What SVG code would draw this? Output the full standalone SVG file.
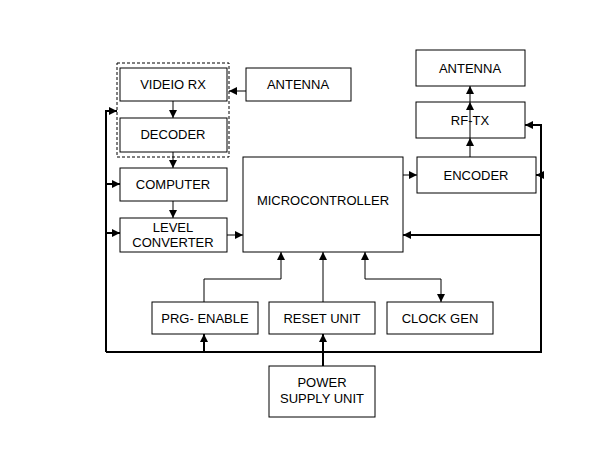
<svg xmlns="http://www.w3.org/2000/svg" width="615" height="461" viewBox="0 0 615 461">
<style>
.b{fill:#fff;stroke:#000;stroke-width:1}
.t{font-family:"Liberation Sans",Arial,sans-serif;font-size:13px;text-anchor:middle;fill:#000}
.l{fill:none;stroke:#000;stroke-width:1}
.k{fill:none;stroke:#000;stroke-width:2}
</style>
<defs><marker id="a" viewBox="0 0 10 10" refX="10" refY="5" markerWidth="8" markerHeight="8" markerUnits="userSpaceOnUse" orient="auto-start-reverse"><path d="M0,0L10,5L0,10z" fill="#000"/></marker></defs>
<rect width="615" height="461" fill="#fff"/>
<rect x="117" y="63" width="112" height="94" fill="none" stroke="#000" stroke-dasharray="3,2"/>
<g id="videorx"><rect class="b" x="120" y="68" width="107" height="33"/><text class="t" x="173" y="89">VIDEIO RX</text></g>
<g id="antenna1"><rect class="b" x="246" y="68" width="105" height="33"/><text class="t" x="298" y="89">ANTENNA</text></g>
<g id="decoder"><rect class="b" x="120" y="118" width="107" height="34"/><text class="t" x="173" y="139">DECODER</text></g>
<g id="computer"><rect class="b" x="120" y="168" width="107" height="33"/><text class="t" x="173" y="189">COMPUTER</text></g>
<g id="level"><rect class="b" x="120" y="218" width="107" height="34"/><text class="t" x="173" y="232">LEVEL</text><text class="t" x="173" y="247">CONVERTER</text></g>
<g id="micro"><rect class="b" x="243" y="157" width="160" height="95"/><text class="t" x="323" y="205">MICROCONTROLLER</text></g>
<g id="antenna2"><rect class="b" x="416" y="50" width="109" height="36"/><text class="t" x="470" y="73">ANTENNA</text></g>
<g id="rftx"><rect class="b" x="416" y="102" width="109" height="36"/><text class="t" x="470" y="125">RF-TX</text></g>
<g id="encoder"><rect class="b" x="417" y="157" width="119" height="36"/><text class="t" x="476" y="180">ENCODER</text></g>
<g id="prg"><rect class="b" x="152" y="302" width="106" height="32"/><text class="t" x="205" y="323">PRG- ENABLE</text></g>
<g id="reset"><rect class="b" x="269" y="302" width="106" height="32"/><text class="t" x="322" y="323">RESET UNIT</text></g>
<g id="clock"><rect class="b" x="387" y="302" width="106" height="32"/><text class="t" x="440" y="323">CLOCK GEN</text></g>
<g id="power"><rect class="b" x="269" y="366" width="106" height="51"/><text class="t" x="322" y="387">POWER</text><text class="t" x="322" y="403">SUPPLY UNIT</text></g>
<g id="connectors">
<path class="l" d="M246,91H229" marker-end="url(#a)"/>
<path class="l" d="M173,101V118" marker-end="url(#a)"/>
<path class="l" d="M173,152V168" marker-end="url(#a)"/>
<path class="l" d="M173,201V218" marker-end="url(#a)"/>
<path class="l" d="M227,235H243" marker-end="url(#a)"/>
<path class="l" d="M403,175H417" marker-end="url(#a)"/>
<path class="l" d="M470,138V102" marker-start="url(#a)" marker-end="url(#a)" style="marker-start:none"/>
<path class="l" d="M470,102V86" marker-end="url(#a)"/>
<path class="l" d="M470,157V138" marker-end="url(#a)"/>
<path class="k" d="M106,352V111H117" marker-end="url(#a)"/>
<path class="k" d="M106,184H120" marker-end="url(#a)"/>
<path class="k" d="M106,233H120" marker-end="url(#a)"/>
<path class="k" d="M106,352H541V125H525" marker-end="url(#a)"/>
<path class="k" d="M541,175H536" marker-end="url(#a)"/>
<path class="k" d="M541,235H403" marker-end="url(#a)"/>
<path class="k" d="M204,352V334" marker-end="url(#a)"/>
<path class="k" d="M323,366V334" marker-end="url(#a)"/>
<path class="l" d="M204,302V279H281V252" marker-end="url(#a)"/>
<path class="l" d="M323,302V252" marker-end="url(#a)"/>
<path class="l" d="M365,252V279H441V302" marker-start="url(#a)" marker-end="url(#a)"/>
</g>
</svg>
